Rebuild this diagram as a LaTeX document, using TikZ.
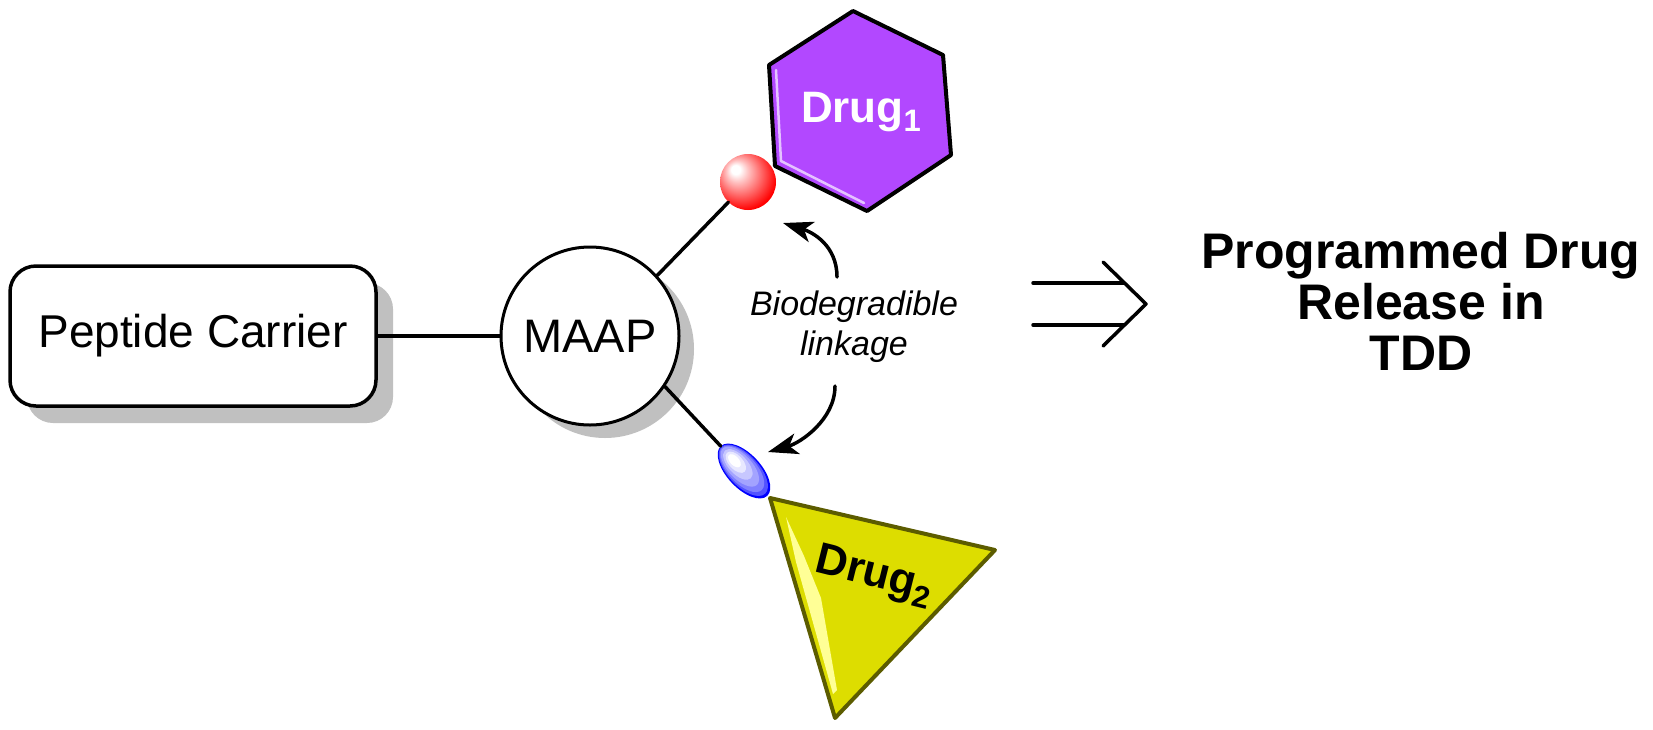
\documentclass[tikz,border=0pt]{standalone}
\usepackage{fontspec}
\setmainfont{Liberation Sans}
\usetikzlibrary{arrows.meta,shapes.geometric,shadows}

\definecolor{drugpurple}{RGB}{178,72,255}
\definecolor{druglilac}{RGB}{228,195,255}
\definecolor{drugyellow}{RGB}{221,221,0}
\definecolor{drugolive}{RGB}{92,92,0}
\definecolor{drugpale}{RGB}{255,255,150}
\definecolor{shadowgray}{RGB}{192,192,192}

\pgfdeclareradialshading{redsphere}{\pgfpoint{-12bp}{12bp}}{color(0bp)=(white); color(4bp)=(white); color(10bp)=(red!25!white); color(18bp)=(red!55!white); color(26bp)=(red!85!white); color(30bp)=(red); color(50bp)=(red)}

\begin{document}
\begin{tikzpicture}[x=1pt, y=-1pt, line cap=round, line join=round,
	link/.style={line width=3.5pt},
	carrierbox/.style={draw, line width=3.5pt, rounded corners=26pt, fill=white, minimum width=366pt, minimum height=140pt,
		drop shadow={shadow xshift=17pt, shadow yshift=-17pt, opacity=1, fill=shadowgray}},
	core/.style={draw, circle, line width=3pt, fill=white, minimum size=178pt, inner sep=0pt,
		drop shadow={shadow xshift=15pt, shadow yshift=-13pt, opacity=1, fill=shadowgray}},
	curvy/.style={line width=3.5pt, -{Stealth[length=30pt, width=21pt, inset=8pt]}}]
	\useasboundingbox (0,0) rectangle (1653,729);
	% Träger und Kern
	\node[carrierbox, font=\fontsize{46}{54}\selectfont] (carrier) at (193,336) {Peptide Carrier};
	\node[core, font=\fontsize{47}{54}\selectfont] (maap) at (590,336) {MAAP};
	% Linker-Kugeln
	\node[circle, minimum size=56pt, inner sep=0pt, shading=redsphere] (redlink) at (748,182) {};
	\node[ellipse, minimum width=68pt, minimum height=34pt, inner sep=0pt, rotate=-47] (bluelink) at (744,471) {};
	\begin{scope}[shift={(bluelink.center)}, rotate=-47]
		\foreach \dx/\a/\b/\c in {0/34/17/100, -1/32/15.5/68, -3/29/14/50, -6/25/12/36, -9/19/9.5/22, -12/13/7/9, -14/8/4.5/0}
			\fill[blue!\c!white] (\dx,0) ellipse [x radius=\a, y radius=\b];
	\end{scope}
	% Wirkstoff 1 (Sechseck)
	\coordinate (h1) at (853,11);
	\coordinate (h2) at (943,55);
	\coordinate (h3) at (951,155);
	\coordinate (h4) at (867,211);
	\coordinate (h5) at (775,166);
	\coordinate (h6) at (769,65);
	\draw[fill=drugpurple, line width=4pt] (h1) -- (h2) -- (h3) -- (h4) -- (h5) -- (h6) -- cycle;
	\draw[druglilac, line width=2.5pt] (776,70) -- (781,161) -- (864,203);
	\node[text=white, font=\bfseries\fontsize{44}{50}\selectfont] (drug1) at (861,112) {Drug\raisebox{-0.2em}{\fontsize{31}{31}\selectfont 1}};
	% Wirkstoff 2 (Dreieck)
	\coordinate (t1) at (770,498);
	\coordinate (t2) at (995,550);
	\coordinate (t3) at (835,718);
	\draw[fill=drugyellow, draw=drugolive, line width=4pt] (t1) -- (t2) -- (t3) -- cycle;
	\fill[drugpale] (786,517) -- (804,556) -- (821,598) -- (837,690) -- (833,694) -- (796,562) -- cycle;
	\node[rotate=-14, font=\bfseries\fontsize{44}{50}\selectfont] (drug2) at (874,576) {Drug\raisebox{-0.2em}{\fontsize{31}{31}\selectfont 2}};
	% Verbindungen
	\draw[link] (carrier) -- (maap);
	\draw[link] (maap.42) -- (redlink);
	\draw[link] (maap.-34) -- (bluelink);
	% Spaltungspfeile
	\coordinate (upfoot) at (837,277);
	\coordinate (uptip) at (783,223);
	\coordinate (downfoot) at (835,386);
	\coordinate (downtip) at (768,452);
	\draw[curvy] (upfoot) .. controls (837,245) and (812,232) .. (uptip);
	\draw[curvy] (downfoot) .. controls (835,420) and (800,443) .. (downtip);
	\node[font=\itshape\fontsize{34}{40}\selectfont, align=center] (linkage) at (854,327) {Biodegradible\\linkage};
	% Folgepfeil
	\coordinate (barA) at (1033,283);
	\coordinate (barB) at (1033,325);
	\coordinate (chevtop) at (1103,262);
	\coordinate (chevtip) at (1146,304);
	\coordinate (chevbot) at (1103,346);
	\draw[link] (barA) -- (barA -| 1124,0) (barB) -- (barB -| 1124,0);
	\draw[link] (chevtop) -- (chevtip) -- (chevbot);
	\node[font=\bfseries\fontsize{50}{51}\selectfont, align=center] (release) at (1421,301) {Programmed Drug\\Release in\\TDD};
\end{tikzpicture}
\end{document}
